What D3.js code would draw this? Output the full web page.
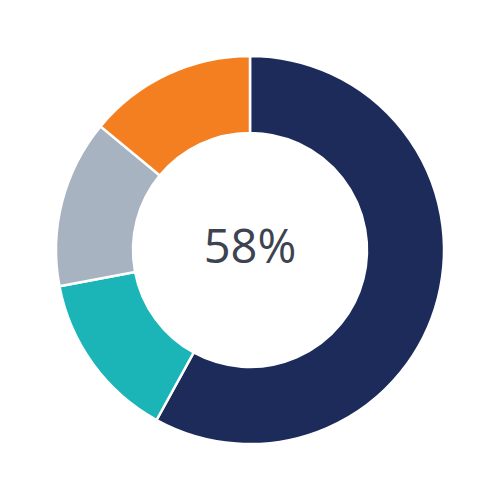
<!DOCTYPE html>
<html lang="en">
<head>
    <meta charset="UTF-8">
    <title>Donut</title>
    <script src="https://d3js.org/d3.v7.min.js"></script>
    <style>
        body { margin: 0; background: #fff; }
        svg { display: block; }
    </style>
</head>
<body>
    <svg width="500" height="500"></svg>
    <script>
        // Slice data
        let categories = ["A", "B", "C", "D"];
        let values = [58, 14, 14, 14];
        let colors = ["#1c2b5a", "#1bb5b8", "#a8b3c2", "#f47f20"];
        let centerLabel = "58%";

        let width = 500, height = 500;
        let outer = 194, inner = 117;

        let svg = d3.select("svg");
        let g = svg.append("g")
            .attr("transform", `translate(${width / 2}, ${height / 2})`);

        let pie = d3.pie().sort(null).value(d => d.value);
        let arc = d3.arc().innerRadius(inner).outerRadius(outer);

        let data = categories.map((c, i) => ({ name: c, value: values[i], color: colors[i] }));

        g.selectAll("path")
            .data(pie(data))
            .join("path")
            .attr("d", arc)
            .attr("fill", d => d.data.color)
            .attr("stroke", "#fff")
            .attr("stroke-width", 2.5);

        g.append("text")
            .attr("text-anchor", "middle")
            .attr("y", 13)
            .attr("font-family", "Open Sans, sans-serif")
            .attr("font-size", 47)
            .attr("fill", "#3d4350")
            .text(centerLabel);
    </script>
</body>
</html>
